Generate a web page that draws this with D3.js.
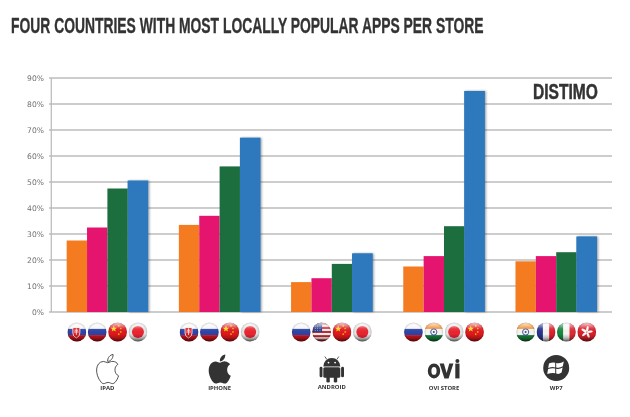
<!DOCTYPE html>
<html>
<head>
<meta charset="utf-8">
<script src="https://cdn.jsdelivr.net/npm/d3@7"></script>
<style>
html,body{margin:0;padding:0;background:#fff}
svg{display:block;will-change:transform}
</style>
</head>
<body>
<svg id="chart" width="630" height="417"></svg>
<script>
const stores = ["IPAD", "IPHONE", "ANDROID", "OVI STORE", "WP7"];
const ranks = ["first", "second", "third", "fourth"];
const rankColors = ["#f57b20", "#e5146f", "#1d6e3e", "#2e78bd"];
const ipadValues = [27.5, 32.5, 47.5, 50.5];
const iphoneValues = [33.5, 37, 56, 67];
const androidValues = [11.5, 13, 18.5, 22.5];
const oviValues = [17.5, 21.5, 33, 85];
const wp7Values = [19.5, 21.5, 23, 29];
const seriesByStore = [ipadValues, iphoneValues, androidValues, oviValues, wp7Values];
const ipadFlags = ["sk", "ru", "cn", "jp"];
const iphoneFlags = ["sk", "ru", "cn", "jp"];
const androidFlags = ["ru", "us", "cn", "jp"];
const oviFlags = ["ru", "in", "jp", "cn"];
const wp7Flags = ["in", "fr", "it", "hk"];
const flagsByStore = [ipadFlags, iphoneFlags, androidFlags, oviFlags, wp7Flags];
const yTicks = [0, 10, 20, 30, 40, 50, 60, 70, 80, 90];

const svg = d3.select("#chart");
const defs = svg.append("defs");

const x = d3.scaleBand().domain(stores).range([51.3, 612.3]).paddingInner(0.274).paddingOuter(0.137);
const xInner = d3.scaleBand().domain(ranks).range([0, x.bandwidth()]);
const y = d3.scaleLinear().domain([0, 90]).range([312, 78]);

// Squeezes a text horizontally so that it spans the given width
function fitWidth(sel, left, baseline, width) {
  const natural = sel.node().getComputedTextLength();
  sel.attr("transform", `translate(${left},${baseline}) scale(${width / natural},1)`);
}

// Heading
svg.append("text")
  .style("font", "bold 21.5px 'Liberation Sans',sans-serif")
  .attr("fill", "#333").attr("stroke", "#333").attr("stroke-width", 0.35)
  .text("FOUR COUNTRIES WITH MOST LOCALLY POPULAR APPS PER STORE")
  .call(fitWidth, 11, 32.5, 473);

// Value axis and gridlines
const grid = svg.append("g");
grid.selectAll("line").data(yTicks).join("line")
  .attr("x1", 49).attr("x2", 612)
  .attr("y1", d => y(d)).attr("y2", d => y(d))
  .attr("stroke", "#bdbdbd").attr("stroke-width", 1.3);
grid.append("line").attr("x1", 51.3).attr("x2", 51.3).attr("y1", y(90)).attr("y2", y(0))
  .attr("stroke", "#bdbdbd").attr("stroke-width", 1.3);
svg.append("g").selectAll("text").data(yTicks).join("text")
  .attr("x", 44).attr("y", d => y(d) + 2.7)
  .attr("text-anchor", "end")
  .style("font", "7.6px 'DejaVu Sans',sans-serif")
  .attr("fill", "#707070")
  .text(d => d + "%");

// Soft shadow on the right-hand side of each cluster
const shadow = defs.append("filter").attr("id", "barShadow")
  .attr("x", "-30%").attr("y", "-5%").attr("width", "160%").attr("height", "110%");
shadow.append("feDropShadow").attr("dx", 1.2).attr("dy", 0).attr("stdDeviation", 0.9)
  .attr("flood-color", "#000").attr("flood-opacity", 0.4);

// Bars
const clusters = svg.append("g").selectAll("g").data(stores).join("g")
  .attr("transform", d => `translate(${x(d)},0)`);
clusters.append("rect")
  .attr("x", xInner("fourth")).attr("width", xInner.bandwidth())
  .attr("y", (d, i) => y(seriesByStore[i][3]))
  .attr("height", (d, i) => y(0) - y(seriesByStore[i][3]))
  .attr("fill", rankColors[3]).attr("filter", "url(#barShadow)");
clusters.each(function (d, i) {
  d3.select(this).selectAll("rect.bar").data(seriesByStore[i]).join("rect")
    .attr("class", "bar")
    .attr("x", (v, j) => xInner(ranks[j]))
    .attr("width", xInner.bandwidth())
    .attr("y", v => y(v))
    .attr("height", v => y(0) - y(v))
    .attr("fill", (v, j) => rankColors[j]);
});

// Glossy flag buttons
const gloss = defs.append("linearGradient").attr("id", "flagGloss")
  .attr("x1", 0).attr("x2", 0).attr("y1", 0).attr("y2", 1);
[[0, "#fff", 0.85], [0.32, "#fff", 0.1], [0.6, "#000", 0], [0.8, "#000", 0.22], [1, "#000", 0.6]]
  .forEach(([o, c, a]) => gloss.append("stop").attr("offset", o).attr("stop-color", c).attr("stop-opacity", a));
const rim = defs.append("radialGradient").attr("id", "flagRim");
[[0.8, 0], [1, 0.16]].forEach(([o, a]) => rim.append("stop").attr("offset", o).attr("stop-color", "#000").attr("stop-opacity", a));
const R = 9.4;
defs.append("clipPath").attr("id", "flagClip").append("circle").attr("r", R);

function star(g, cx, cy, r, fill) {
  const pts = d3.range(10).map(k => {
    const a = -Math.PI / 2 + k * Math.PI / 5, q = k % 2 ? r * 0.42 : r;
    return [cx + q * Math.cos(a), cy + q * Math.sin(a)];
  });
  g.append("polygon").attr("points", pts.join(" ")).attr("fill", fill);
}
function bands(g, colors) {
  const h = 2 * R / colors.length;
  colors.forEach((c, k) => g.append("rect").attr("x", -R).attr("y", -R + k * h).attr("width", 2 * R).attr("height", h + 0.2).attr("fill", c));
}
function stripes(g, colors) {
  const w = 2 * R / colors.length;
  colors.forEach((c, k) => g.append("rect").attr("x", -R + k * w).attr("y", -R).attr("width", w + 0.2).attr("height", 2 * R).attr("fill", c));
}
const flagPainters = {
  ru: g => bands(g, ["#f6f6f6", "#2c44a8", "#d3141c"]),
  sk: g => {
    bands(g, ["#f6f6f6", "#2c44a8", "#d3141c"]);
    g.append("path").attr("d", "M-4,-4.5H3V1Q3,4.5 -0.5,6Q-4,4.5 -4,1Z").attr("fill", "#e11b22").attr("stroke", "#fff").attr("stroke-width", 0.8);
    g.append("path").attr("d", "M-0.5,-3.6V3M-2.3,-1.8H1.3M-2.8,0H1.8").attr("stroke", "#fff").attr("stroke-width", 0.8);
  },
  cn: g => {
    bands(g, ["#e0181d"]);
    star(g, -3.8, -3.2, 3.4, "#ffd91a");
    [[1.2, -6], [3.2, -3.4], [3.2, 0], [1.2, 2.2]].forEach(p => star(g, p[0], p[1], 1.2, "#ffd91a"));
  },
  jp: g => {
    bands(g, ["#e6e6e6"]);
    g.append("circle").attr("r", 6).attr("fill", "#ea2530");
  },
  us: g => {
    bands(g, ["#c9252d", "#f4f4f4", "#c9252d", "#f4f4f4", "#c9252d", "#f4f4f4", "#c9252d", "#f4f4f4", "#c9252d"]);
    g.append("rect").attr("x", -R).attr("y", -R).attr("width", R + 0.5).attr("height", R).attr("fill", "#2a3a86");
    d3.range(3).forEach(a => d3.range(3).forEach(b =>
      g.append("circle").attr("cx", -6.4 + a * 2.4).attr("cy", -6 + b * 2.2).attr("r", 0.45).attr("fill", "#fff")));
  },
  in: g => {
    bands(g, ["#f08a24", "#f6f6f6", "#17813a"]);
    g.append("circle").attr("r", 3.1).attr("fill", "none").attr("stroke", "#37479c").attr("stroke-width", 0.9);
    g.append("circle").attr("r", 1).attr("fill", "#37479c");
  },
  fr: g => stripes(g, ["#24358f", "#f6f6f6", "#e0202a"]),
  it: g => stripes(g, ["#17883f", "#f6f6f6", "#df2a33"]),
  hk: g => {
    bands(g, ["#dc1f2a"]);
    d3.range(5).forEach(k => g.append("ellipse")
      .attr("cx", 0).attr("cy", -3.2).attr("rx", 1.2).attr("ry", 2.9)
      .attr("transform", `rotate(${k * 72 + 12})`).attr("fill", "#fff"));
  }
};
clusters.each(function (d, i) {
  d3.select(this).selectAll("g.flag").data(flagsByStore[i]).join("g")
    .attr("class", "flag")
    .attr("transform", (c, j) => `translate(${xInner(ranks[j]) + xInner.bandwidth() / 2},332)`)
    .each(function (c) {
      const f = d3.select(this);
      const inner = f.append("g").attr("clip-path", "url(#flagClip)");
      flagPainters[c](inner);
      f.append("circle").attr("r", R).attr("fill", "url(#flagGloss)");
      f.append("circle").attr("r", R).attr("fill", "url(#flagRim)");
    });
});

// Store logos
const ink = "#333";
const applePath = "M17.05 20.28c-.98.95-2.05.8-3.08.35-1.09-.46-2.09-.48-3.24 0-1.44.62-2.2.44-3.06-.35C2.79 15.25 3.51 7.59 9.05 7.31c1.35.07 2.29.74 3.08.8 1.18-.24 2.31-.93 3.57-.84 1.51.12 2.65.72 3.4 1.8-3.12 1.87-2.38 5.98.48 7.13-.57 1.5-1.31 2.99-2.54 4.09zM12.03 7.25c-.15-2.23 1.66-4.07 3.74-4.25.29 2.58-2.34 4.5-3.74 4.25z";
const logoPainters = {
  "IPAD": g => g.append("path").attr("d", applePath)
    .attr("transform", "translate(-17.2,349.6) scale(1.45,1.62)")
    .attr("fill", "#fff").attr("stroke", ink).attr("stroke-width", 0.55),
  "IPHONE": g => g.append("path").attr("d", applePath)
    .attr("transform", "translate(-17.2,349.6) scale(1.45,1.62)")
    .attr("fill", ink),
  "ANDROID": g => {
    g.append("path").attr("d", "M-8.5,366.5A8.5,8.5 0 0 1 8.5,366.5Z").attr("fill", ink);
    g.append("path").attr("d", "M-5,359.5L-7,356.5M5,359.5L7,356.5").attr("stroke", ink).attr("stroke-width", 0.8);
    g.append("circle").attr("cx", -3.3).attr("cy", 362.6).attr("r", 0.9).attr("fill", "#fff");
    g.append("circle").attr("cx", 3.3).attr("cy", 362.6).attr("r", 0.9).attr("fill", "#fff");
    g.append("rect").attr("x", -8.5).attr("y", 367.3).attr("width", 17).attr("height", 10.5).attr("rx", 1.5).attr("fill", ink);
    [[-12.2, 366.8, 2.9, 10.5], [9.3, 366.8, 2.9, 10.5], [-5.4, 375, 3.4, 7.6], [2, 375, 3.4, 7.6]]
      .forEach(r => g.append("rect").attr("x", r[0]).attr("y", r[1]).attr("width", r[2]).attr("height", r[3]).attr("rx", 1.4).attr("fill", ink));
  },
  "OVI STORE": g => {
    g.append("ellipse").attr("cx", -10).attr("cy", 370.9).attr("rx", 4.4).attr("ry", 5.7)
      .attr("fill", "none").attr("stroke", ink).attr("stroke-width", 3.6);
    g.append("polygon").attr("fill", ink)
      .attr("points", "-4.4,363.6 -0.1,363.6 2.6,373 5.3,363.6 9.4,363.6 4.6,378.4 0.4,378.4");
    g.append("rect").attr("x", 11.3).attr("y", 363.6).attr("width", 4.2).attr("height", 14.8).attr("fill", ink);
    g.append("circle").attr("cx", 13.4).attr("cy", 361).attr("r", 2).attr("fill", ink);
  },
  "WP7": g => {
    g.append("circle").attr("cy", 368).attr("r", 13).attr("fill", ink);
    const panes = ["M-7.2,363.6Q-4,362 -1,362.8V367.4Q-4,366.6 -8,368Z", "M0,362.9Q4,364 7.6,361.4L6.6,366.3Q3.4,368.4 -0,367.5Z",
      "M-8.1,369.1Q-4,367.8 -1,368.6V373.3Q-4,372.4 -9,374Z", "M0,368.7Q3.4,369.6 6.4,367.5L5.4,372.6Q2.6,374.6 0,373.5Z"];
    panes.forEach(p => g.append("path").attr("d", p).attr("fill", "#fff"));
  }
};
const logos = svg.append("g").selectAll("g").data(stores).join("g")
  .attr("transform", d => `translate(${x(d) + x.bandwidth() / 2},0)`);
logos.each(function (d) { logoPainters[d](d3.select(this)); });
logos.append("text")
  .attr("y", (d) => d === "ANDROID" ? 389.3 : 390)
  .attr("text-anchor", "middle")
  .style("font", "bold 5.9px 'Open Sans','Liberation Sans',sans-serif")
  .attr("fill", ink)
  .text(d => d);

// Brand mark
svg.append("text")
  .style("font", "bold 22.5px 'Liberation Sans',sans-serif")
  .attr("fill", "#333").attr("stroke", "#333").attr("stroke-width", 0.5)
  .text("DISTIMO")
  .call(fitWidth, 533, 99.4, 65);
</script>
</body>
</html>
